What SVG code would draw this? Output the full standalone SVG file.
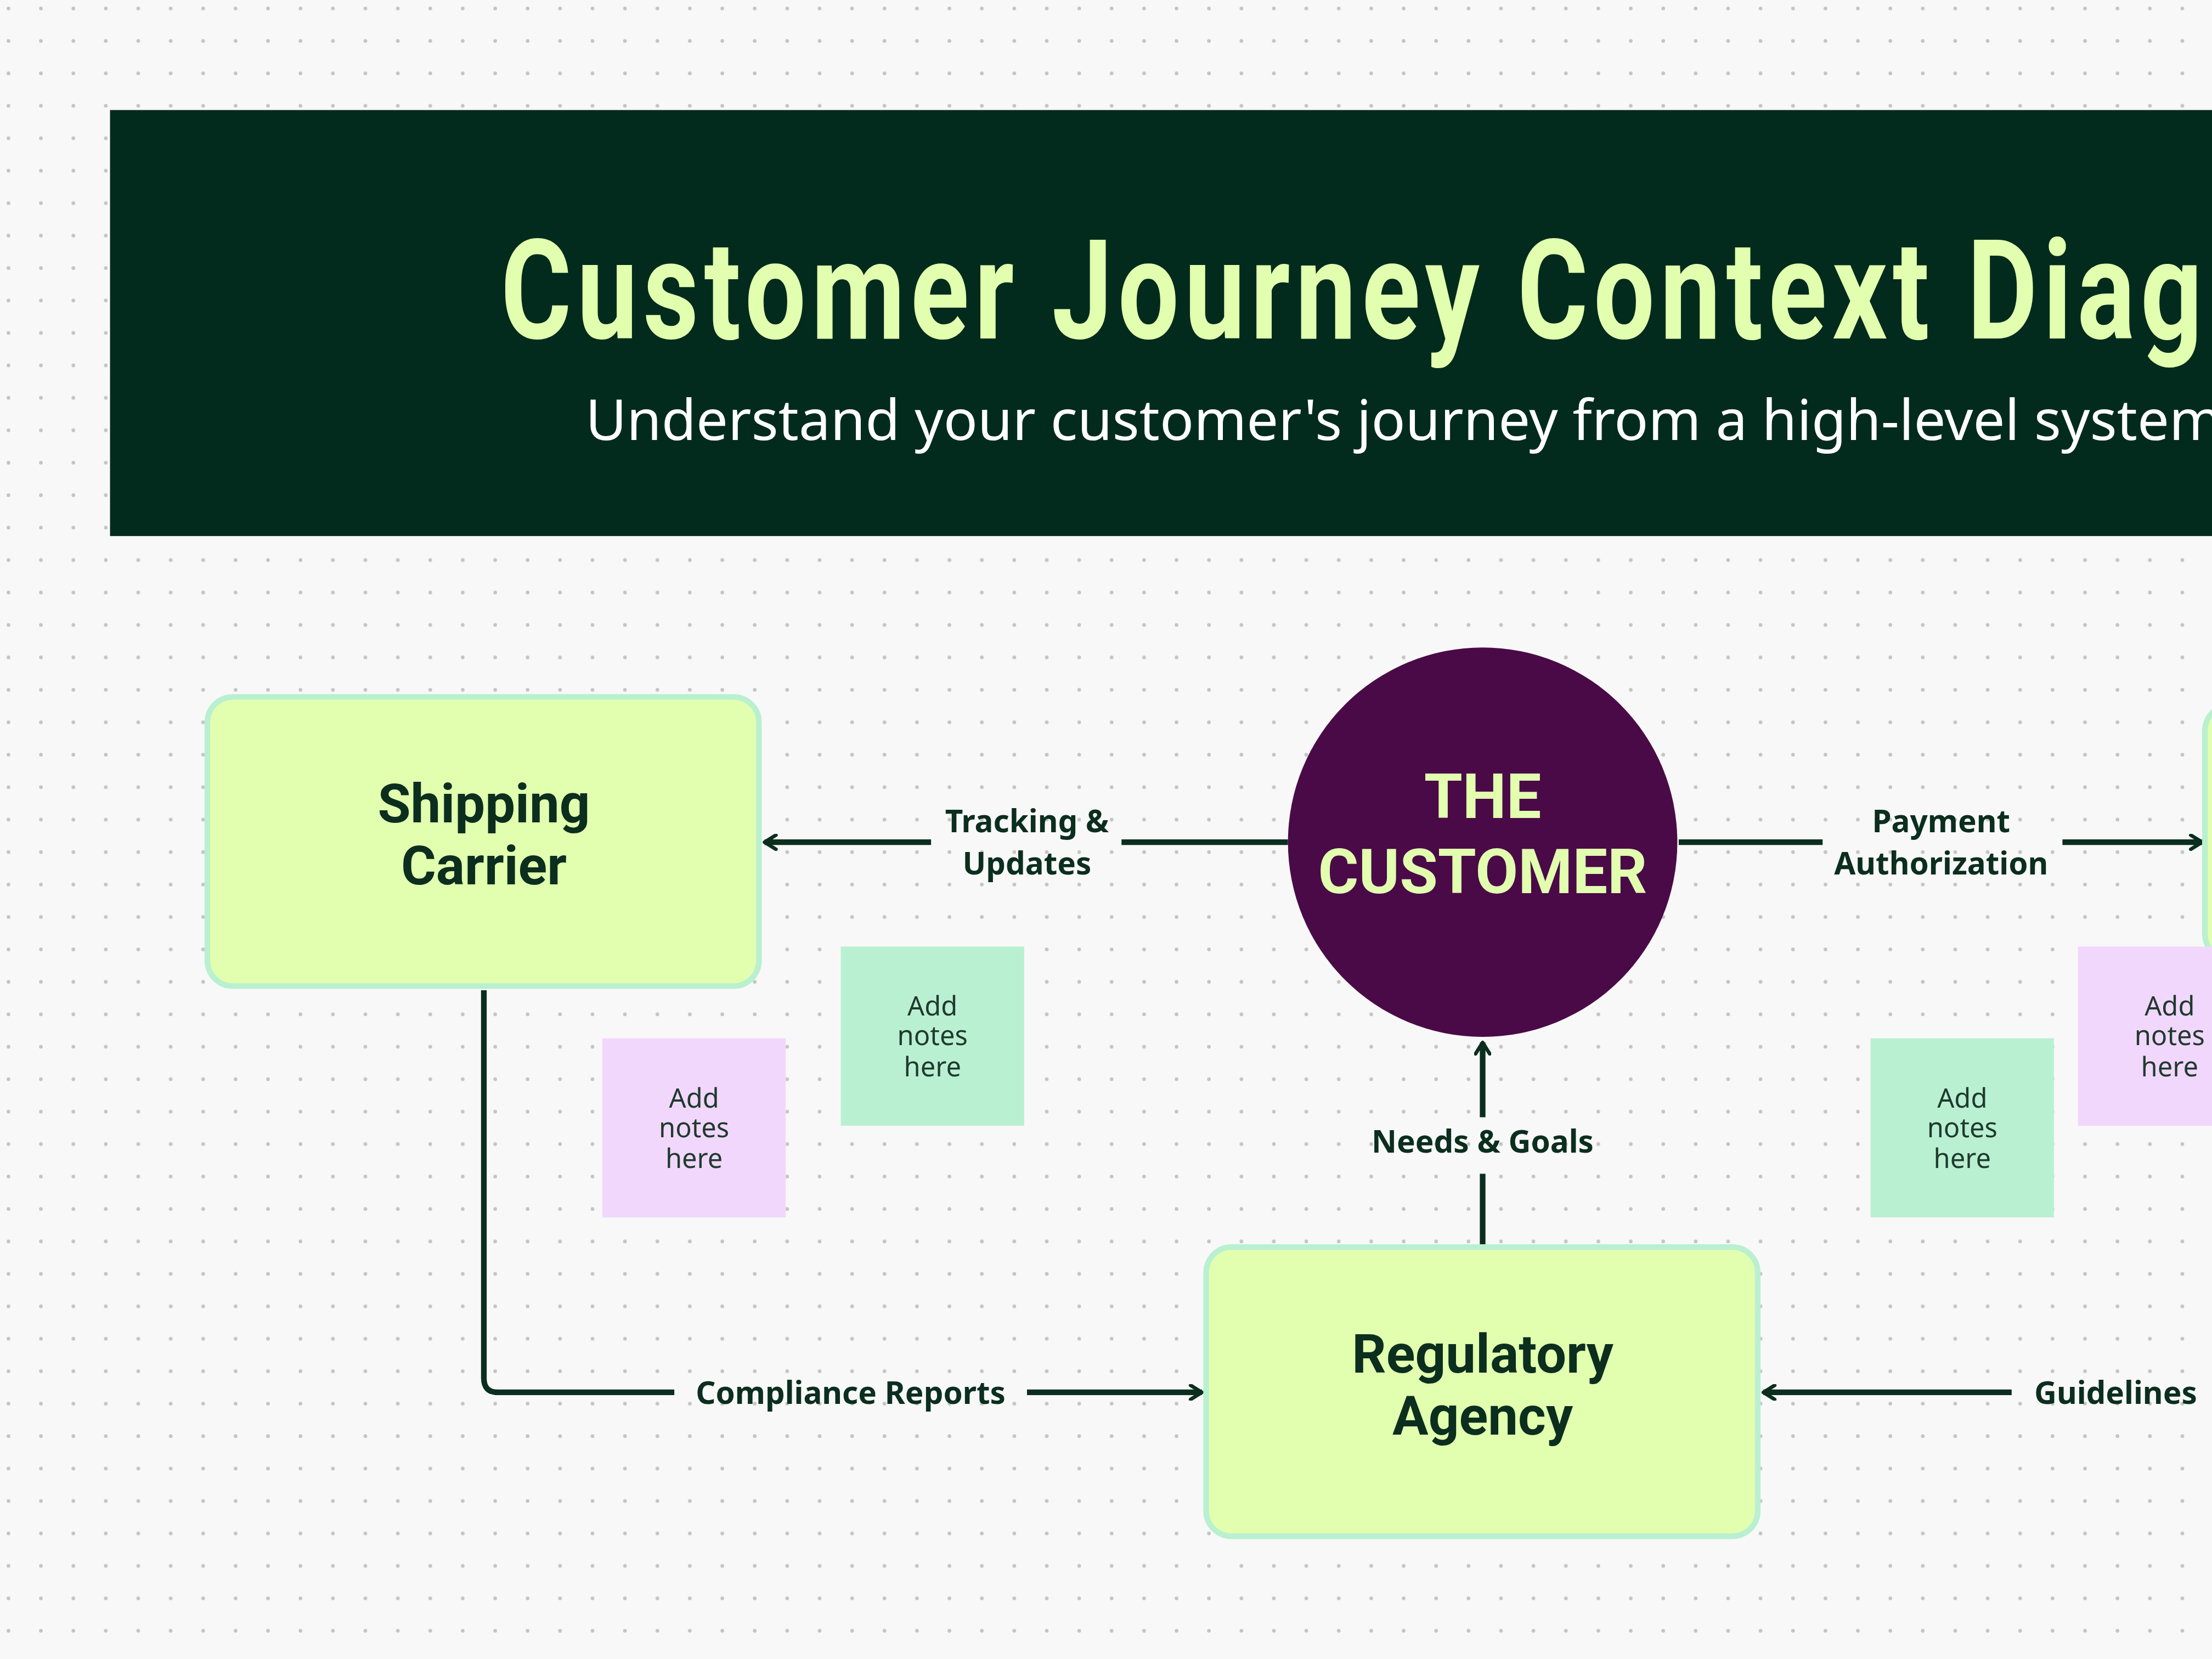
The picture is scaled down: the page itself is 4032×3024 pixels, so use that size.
<svg xmlns="http://www.w3.org/2000/svg" width="4032" height="3024" viewBox="0 0 4032 3024">
<defs>
<pattern id="dots" width="23" height="23" patternUnits="userSpaceOnUse"><circle cx="6" cy="6" r="1.3" fill="#c4c4c4"/></pattern>
<marker id="ah" viewBox="0 0 12 12" refX="10" refY="6" markerWidth="12" markerHeight="12" markerUnits="userSpaceOnUse" orient="auto"><path d="M2,1 L10,6 L2,11" fill="none" stroke="#0b2e1e" stroke-width="2.6" stroke-linecap="round" stroke-linejoin="round"/></marker>
</defs>
<style>
.box{fill:#e2ffb0;stroke:#b9f0d0;stroke-width:4}
.bt{font-family:Roboto,"Liberation Sans",sans-serif;font-weight:700;font-size:38px;fill:#0b2e1e;text-anchor:middle}
.ct{font-family:Roboto,"Liberation Sans",sans-serif;font-weight:700;font-size:44px;fill:#e2ffb0;text-anchor:middle}
.lbl{font-family:"Noto Sans","Open Sans",sans-serif;font-weight:700;font-size:22px;fill:#0b2e1e;text-anchor:middle}
.lbs{font-family:"Noto Sans","Open Sans",sans-serif;font-weight:700;font-size:22px;fill:#0b2e1e;text-anchor:start}
.ln{fill:none;stroke:#0b2e1e;stroke-width:4}
.note{font-family:"Noto Sans","Open Sans",sans-serif;font-size:19px;fill:#1f3a2e;text-anchor:middle}
</style>
<g transform="scale(2.5714)">
<rect width="1568" height="1176" fill="#f8f8f8"/>
<rect width="1568" height="1176" fill="url(#dots)"/>
<g id="header">
<rect x="78" y="78" width="1500" height="302" fill="#022b1d"/>
<text x="355" y="240" font-family="Roboto,'Liberation Sans',sans-serif" font-weight="700" font-size="98" fill="#e2ffb0" letter-spacing="5" textLength="1356" lengthAdjust="spacingAndGlyphs">Customer Journey Context Diagram</text>
<text x="415" y="312" font-family="'Noto Sans','Open Sans',sans-serif" font-size="40" fill="#ffffff">Understand your customer's journey from a high-level system perspective</text>
</g>
<g id="connectors">
<line class="ln" x1="660" y1="597" x2="542" y2="597" marker-end="url(#ah)"/>
<line class="ln" x1="913" y1="597" x2="795" y2="597"/>
<text class="lbl" x="728" y="590">Tracking &amp;</text><text class="lbl" x="728" y="620">Updates</text>
<line class="ln" x1="1190" y1="597" x2="1292" y2="597"/>
<line class="ln" x1="1462" y1="597" x2="1561" y2="597" marker-end="url(#ah)"/>
<text class="lbl" x="1376" y="590">Payment</text><text class="lbl" x="1376" y="620">Authorization</text>
<line class="ln" x1="1051" y1="882" x2="1051" y2="832"/>
<line class="ln" x1="1051" y1="792" x2="1051" y2="739" marker-end="url(#ah)"/>
<text class="lbl" x="1051" y="817">Needs &amp; Goals</text>
<path class="ln" d="M343,702 V977 Q343,987 353,987 H478"/>
<line class="ln" x1="728" y1="987" x2="852" y2="987" marker-end="url(#ah)"/>
<text class="lbl" x="603" y="995">Compliance Reports</text>
<line class="ln" x1="1426" y1="987" x2="1250" y2="987" marker-end="url(#ah)"/>
<text class="lbs" x="1442" y="995">Guidelines</text>
</g>
<g id="shipping"><rect class="box" x="147" y="494" width="391" height="205" rx="18"/><text class="bt" x="343" y="583">Shipping</text><text class="bt" x="343" y="627">Carrier</text></g>
<g id="customer"><circle cx="1051" cy="597" r="138" fill="#4a0a47"/><text class="ct" x="1051" y="580">THE</text><text class="ct" x="1051" y="633">CUSTOMER</text></g>
<g id="regulatory"><rect class="box" x="855" y="884" width="391" height="205" rx="18"/><text class="bt" x="1051" y="973">Regulatory</text><text class="bt" x="1051" y="1017">Agency</text></g>
<g id="rightbox"><rect class="box" x="1563" y="500" width="100" height="180" rx="18"/></g>
<g id="note1"><rect x="427" y="736" width="130" height="127" fill="#f2d7fc"/><text class="note" x="492" y="785">Add</text><text class="note" x="492" y="806">notes</text><text class="note" x="492" y="828">here</text></g>
<g id="note2"><rect x="596" y="671" width="130" height="127" fill="#baf0d2"/><text class="note" x="661" y="720">Add</text><text class="note" x="661" y="741">notes</text><text class="note" x="661" y="763">here</text></g>
<g id="note3"><rect x="1326" y="736" width="130" height="127" fill="#baf0d2"/><text class="note" x="1391" y="785">Add</text><text class="note" x="1391" y="806">notes</text><text class="note" x="1391" y="828">here</text></g>
<g id="note4"><rect x="1473" y="671" width="130" height="127" fill="#f2d7fc"/><text class="note" x="1538" y="720">Add</text><text class="note" x="1538" y="741">notes</text><text class="note" x="1538" y="763">here</text></g>
</g>
</svg>
